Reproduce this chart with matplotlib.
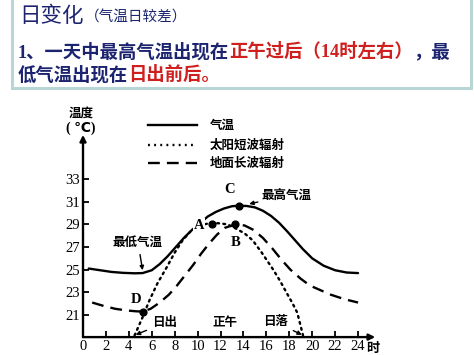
import matplotlib
matplotlib.use("Agg")
import matplotlib.pyplot as plt
from matplotlib.patches import Rectangle

plt.rcParams['font.family'] = ['Noto Sans CJK SC', 'DejaVu Sans']

# ---------------- data ----------------
xticks = [0, 2, 4, 6, 8, 10, 12, 14, 16, 18, 20, 22, 24]
yticks = [21, 23, 25, 27, 29, 31, 33]

air_hours = [0.5, 1.5, 2.5, 3.5, 4.5, 5.2, 6.0, 6.7, 7.4, 8.1, 8.8, 9.5, 10.2, 10.9,
             11.6, 12.3, 13.0, 13.6, 14.3, 15.0, 15.7, 16.4, 17.1, 17.8, 18.5, 19.2,
             20.0, 21.0, 22.0, 23.0, 24.0]
air_temp = [25.1, 24.95, 24.8, 24.72, 24.68, 24.7, 24.95, 25.5, 26.2, 27.0, 27.8, 28.5,
            29.1, 29.7, 30.1, 30.4, 30.6, 30.65, 30.62, 30.5, 30.2, 29.75, 29.15, 28.4,
            27.6, 26.8, 26.0, 25.35, 24.95, 24.75, 24.7]

sun_hours = [4.5, 5.2, 5.8, 6.5, 7.3, 8.0, 8.7, 9.4, 10.2, 11.0, 11.8, 12.6, 13.4, 14.1,
             14.8, 15.6, 16.6, 17.2, 17.8, 18.3, 18.7, 19.2]
sun_val = [19.2, 20.8, 22.3, 23.8, 25.2, 26.5, 27.6, 28.4, 28.9, 29.1, 29.1, 29.0, 28.6,
           28.2, 27.6, 26.5, 25.0, 24.0, 22.9, 22.0, 21.2, 19.2]

ground_hours = [0.8, 1.8, 2.8, 3.8, 4.6, 5.2, 5.9, 6.7, 7.5, 8.2, 8.9, 9.6, 10.3, 11.0,
                11.7, 12.4, 13.3, 14.1, 14.9, 15.7, 16.5, 17.3, 18.1, 19.0, 19.8, 20.7,
                21.6, 22.8, 24.0]
ground_val = [22.1, 21.8, 21.55, 21.4, 21.33, 21.3, 21.55, 22.1, 22.8, 23.6, 24.5, 25.4,
              26.4, 27.3, 28.1, 28.7, 29.0, 28.9, 28.5, 27.8, 26.9, 25.9, 25.0, 24.2,
              23.6, 23.2, 22.8, 22.4, 22.1]

point_names = ['A', 'B', 'C', 'D']
point_hours = [11.3, 13.3, 13.6, 5.2]
point_temps = [29.0, 29.0, 30.65, 21.3]

legend_labels = ['气温', '太阳短波辐射', '地面长波辐射']

# ---------------- figure ----------------
W, H = 474, 355
fig = plt.figure(figsize=(W / 100, H / 100), dpi=100)
fig.patch.set_facecolor('white')

def fx(px):
    return px / W

def fy(py):
    return 1 - py / H

# header box
box = Rectangle((fx(12), fy(88)), fx(471) - fx(12), fy(-6) - fy(88),
                transform=fig.transFigure, facecolor='white',
                edgecolor='#b9d6d6', linewidth=2.2, zorder=0)
fig.patches.append(box)

navy = '#1c2470'
red = '#d01f1f'
fam = ['Liberation Serif', 'Noto Sans CJK SC']

fig.canvas.draw()
renderer = fig.canvas.get_renderer()

def chain(segments, x0, y, size, weight='bold'):
    x = x0
    for s, c in segments:
        t = fig.text(x, y, s, color=c, fontsize=size, fontweight=weight,
                     family=fam, va='center', ha='left')
        bb = t.get_window_extent(renderer=renderer)
        x += bb.width / W
    return x

xend = chain([('日变化', navy)], fx(19), fy(17), 15.5, weight='normal')
fig.text(xend + 0.002, fy(18), '（气温日较差）', color=navy, fontsize=10.5,
         family=fam, va='center', ha='left')

chain([('1、一天中最高气温出现在', navy), ('正午过后（14时左右）', red), ('，最', navy)],
      fx(18), fy(52), 13.2)
chain([('低气温出现在', navy), ('日出前后。', red)], fx(18), fy(75), 13.2)

# ---------------- chart axes ----------------
px_per_h = 11.46
px_per_deg = 11.33
x_left_px = 83
y21_px = 315
xmax = 25.2
ymin = 19.05
ymax = 36.7
right_px = x_left_px + xmax * px_per_h
bot_px = y21_px + (21 - ymin) * px_per_deg
top_px = y21_px - (ymax - 21) * px_per_deg
ax = fig.add_axes([fx(x_left_px), fy(bot_px), (right_px - x_left_px) / W,
                   (bot_px - top_px) / H])
ax.set_xlim(0, xmax)
ax.set_ylim(ymin, ymax)
ax.patch.set_alpha(0)
for s in ax.spines.values():
    s.set_visible(False)

# axes with arrows
ax.annotate('', xy=(xmax + 0.3, ymin), xytext=(0, ymin), annotation_clip=False,
            arrowprops=dict(arrowstyle='-|>', color='black', lw=1.7,
                            mutation_scale=9, shrinkA=0, shrinkB=0))
ax.annotate('', xy=(0, ymax + 0.2), xytext=(0, ymin), annotation_clip=False,
            arrowprops=dict(arrowstyle='-|>', color='black', lw=1.7,
                            mutation_scale=9, shrinkA=0, shrinkB=0))

ax.set_xticks(xticks)
ax.set_yticks(yticks)
ax.tick_params(axis='both', direction='in', length=4.5, width=1.3, color='black',
               labelsize=10.5)
for lab in ax.get_xticklabels() + ax.get_yticklabels():
    lab.set_family('Liberation Serif')
ax.tick_params(axis='x', pad=2)
ax.tick_params(axis='y', pad=2)

# curves
ax.plot(air_hours, air_temp, color='black', lw=1.7, solid_capstyle='round', zorder=3)
ax.plot(sun_hours, sun_val, color='black', lw=1.7, linestyle=(0, (0.8, 1.8)),
        dash_capstyle='round', zorder=3)
ax.plot(ground_hours, ground_val, color='black', lw=1.7, linestyle=(0, (5, 3)), zorder=3)

ax.scatter(point_hours, point_temps, s=24, color='black', zorder=5)

# point labels
lab_font = dict(family='Liberation Serif', fontsize=10.5, fontweight='bold', color='black')
ax.text(10.1, 28.9, point_names[0], ha='center', va='center', zorder=4,
        bbox=dict(facecolor='white', edgecolor='none', pad=0.5), **lab_font)
ax.text(13.3, 27.4, point_names[1], ha='center', va='center', **lab_font)
ax.text(12.8, 32.1, point_names[2], ha='center', va='center', **lab_font)
ax.text(4.6, 22.4, point_names[3], ha='center', va='center', **lab_font)

cj = dict(fontsize=9, fontweight='bold', color='black')
ax.annotate('最高气温', xy=(14.5, 30.8), xytext=(17.8, 31.55), ha='center', va='center',
            arrowprops=dict(arrowstyle='-|>', color='black', lw=1, mutation_scale=6,
                            shrinkA=1, shrinkB=0), **cj)
ax.annotate('最低气温', xy=(5.2, 24.95), xytext=(4.8, 27.4), ha='center', va='center',
            arrowprops=dict(arrowstyle='-|>', color='black', lw=1, mutation_scale=6,
                            shrinkA=2, shrinkB=0), **cj)
ax.annotate('日出', xy=(4.6, 19.25), xytext=(7.1, 20.3), ha='center', va='center',
            arrowprops=dict(arrowstyle='-|>', color='black', lw=1, mutation_scale=6,
                            shrinkA=2, shrinkB=0), **cj)
ax.text(12.4, 20.3, '正午', ha='center', va='center', **cj)
ax.annotate('日落', xy=(19.1, 19.25), xytext=(16.8, 20.4), ha='center', va='center',
            arrowprops=dict(arrowstyle='-|>', color='black', lw=1, mutation_scale=6,
                            shrinkA=2, shrinkB=0), **cj)

fig.text(fx(373), fy(348), '时', fontsize=9.5, fontweight='bold', ha='center', va='center')
fig.text(fx(81), fy(113), '温度', fontsize=9, fontweight='bold', ha='center', va='center')
fig.text(fx(81), fy(128), '( ℃)', fontsize=10, fontweight='bold', ha='center', va='center',
         family=['Liberation Serif', 'DejaVu Sans'])

# legend (manual, in figure pixels)
leg_y = [125, 145, 163]
styles = ['-', (0, (0.8, 1.8)), (0, (5, 3))]
for yy, st, lab in zip(leg_y, styles, legend_labels):
    fig.add_artist(plt.Line2D([fx(148), fx(197)], [fy(yy), fy(yy)], color='black',
                              lw=1.7, linestyle=st, transform=fig.transFigure))
    fig.text(fx(210), fy(yy), lab, fontsize=9, fontweight='bold', ha='left',
             va='center')

fig.savefig('out.png', dpi=100, facecolor='white')
